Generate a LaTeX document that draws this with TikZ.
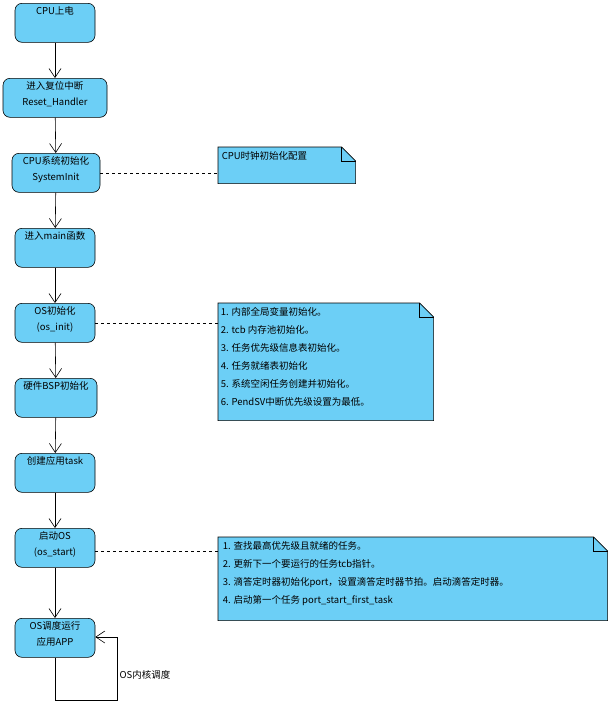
\documentclass[tikz,border=0pt]{standalone}
\usepackage{fontspec}
\setmainfont{Noto Sans CJK SC}
\usetikzlibrary{arrows.meta,positioning,backgrounds}
\definecolor{boxblue}{HTML}{6CCFF6}

\newcommand{\stagetext}[2][74pt]{\parbox[t][32pt][t]{#1}{\centering\linespread{1.05}\selectfont #2}}
\newcommand{\notetext}[3]{\parbox[t][#2][t]{#1}{\linespread{1.2}\selectfont #3}}

\begin{document}
\begin{tikzpicture}[x=1pt,y=-1pt,font=\fontsize{9.5}{15}\selectfont,line width=0.6pt,
	flow/.style={-{Straight Barb[length=9pt,width=12pt]}},
	stage/.style={draw, rounded corners=7pt, fill=boxblue, minimum width=80pt,
		minimum height=39pt, inner sep=2pt, anchor=north},
	note/.style={anchor=north west, inner xsep=2pt, inner ysep=0pt},
	link/.style={dashed}]
		\useasboundingbox (0,0) rectangle (612,705);

		\node[stage] (cpu) at (55,3) {\stagetext{CPU上电}};
		\node[stage, minimum width=104pt] (reset) at (55,78) {\stagetext[98pt]{进入复位中断\\Reset\_Handler}};
		\node[stage, minimum width=88pt] (sysinit) at (56,153) {\stagetext[84pt]{CPU系统初始化\\SystemInit}};
		\node[stage] (main) at (55,228) {\stagetext{进入main函数}};
		\node[stage] (osinit) at (55,303) {\stagetext{OS初始化\\(os\_init)}};
		\node[stage, minimum width=82pt] (bsp) at (56,378) {\stagetext[78pt]{硬件BSP初始化}};
		\node[stage] (task) at (55,453) {\stagetext{创建应用task}};
		\node[stage] (osstart) at (55,528) {\stagetext{启动OS\\(os\_start)}};
		\node[stage] (app) at (55,618) {\stagetext{OS调度运行\\应用APP}};

		% notes
		\node[note, minimum width=137pt, minimum height=36pt] (n1) at (218,147)
			{\notetext{130pt}{32pt}{\vspace{2pt}CPU时钟初始化配置}};
		\node[note, minimum width=215pt, minimum height=117pt] (n2) at (218,303)
			{\notetext{210pt}{114pt}{\vspace{3pt}1. 内部全局变量初始化。\\2. tcb 内存池初始化。\\3. 任务优先级信息表初始化。\\4. 任务就绪表初始化\\5. 系统空闲任务创建并初始化。\\6. PendSV中断优先级设置为最低。}};
		\node[note, minimum width=389pt, minimum height=83pt] (n3) at (218,537)
			{\notetext{380pt}{80pt}{\vspace{3pt}1. 查找最高优先级且就绪的任务。\\2. 更新下一个要运行的任务tcb指针。\\3. 滴答定时器初始化port，设置滴答定时器节拍。启动滴答定时器。\\4. 启动第一个任务 port\_start\_first\_task}};
		\foreach \n in {n1,n2,n3} {
			\begin{scope}[on background layer]
			\fill[boxblue] (\n.north west) -- ([xshift=-14pt]\n.north east) -- ([yshift=-14pt]\n.north east)
				-- (\n.south east) -- (\n.south west) -- cycle;
			\end{scope}
			\draw (\n.north west) -- ([xshift=-14pt]\n.north east) -- ([yshift=-14pt]\n.north east)
				-- (\n.south east) -- (\n.south west) -- cycle;
			\draw ([xshift=-14pt]\n.north east) -- ([xshift=-14pt,yshift=-14pt]\n.north east)
				-- ([yshift=-14pt]\n.north east);
		}

		% main flow
		\foreach \a/\b in {cpu/reset, reset/sysinit, sysinit/main, main/osinit,
			osinit/bsp, bsp/task, task/osstart, osstart/app}
			\draw[flow] (\a) -- (\b);

		% links to notes
		\draw[link] (sysinit.east) -- (sysinit.east -| n1.west);
		\draw[link] (osinit.east) -- (osinit.east -| n2.west);
		\draw[link] ([yshift=-3pt]osstart.east) -- ([yshift=-3pt]osstart.east -| n3.west);

		% scheduler loop
		\coordinate (loopa) at (55,700);
		\coordinate (loopb) at (117,700);
		\coordinate (loopc) at (117,637);
		\draw[flow] (app.south) -- (loopa) -- (loopb) -- (loopc) -- (app.east |- loopc);
		\node (looplbl) at (145,675) {OS内核调度};
	\end{tikzpicture}
\end{document}
